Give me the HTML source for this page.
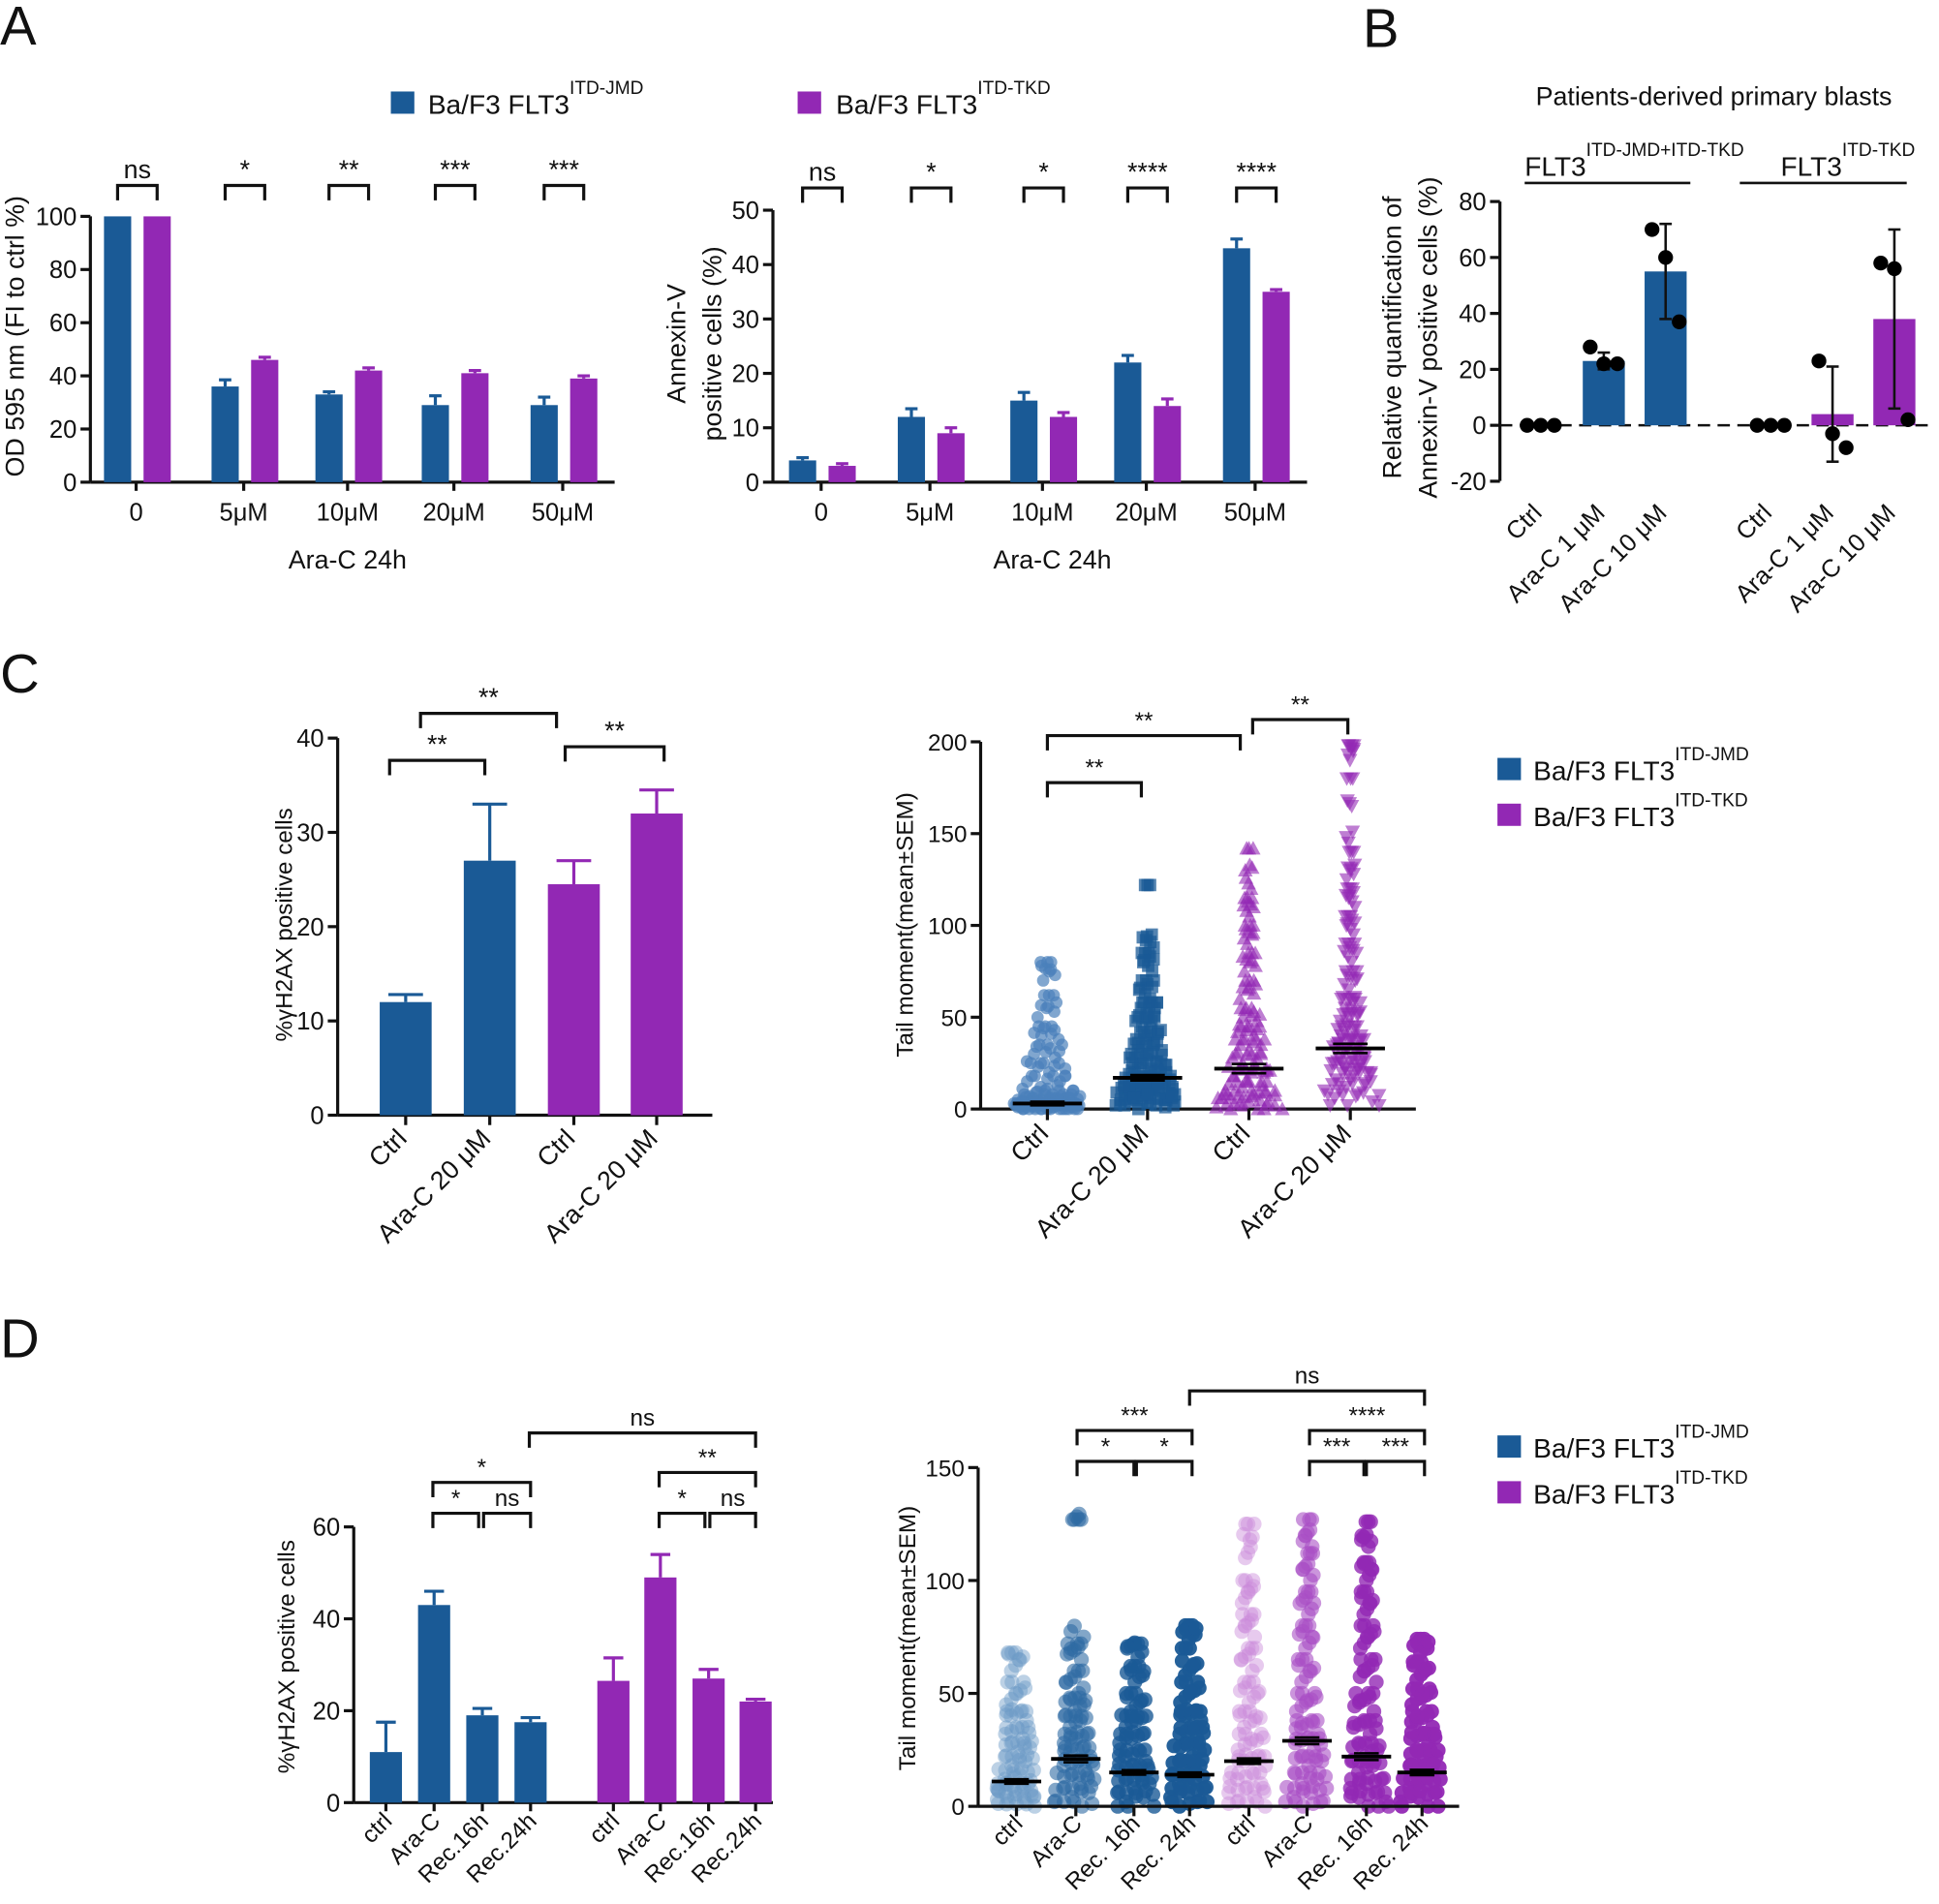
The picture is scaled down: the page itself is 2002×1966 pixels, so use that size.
<!DOCTYPE html>
<html><head><meta charset="utf-8"><style>
html,body{margin:0;padding:0;background:#fff}
svg{display:block}
text{font-family:"Liberation Sans",sans-serif;fill:#111}
</style></head><body>
<svg id="fig" width="2002" height="1966" viewBox="0 0 1568 1540" xmlns="http://www.w3.org/2000/svg">
<text x="0" y="36" font-size="44">A</text>
<text x="1102" y="38" font-size="44">B</text>
<text x="0" y="560" font-size="44">C</text>
<text x="0" y="1098" font-size="44">D</text>
<g>
<rect x="316" y="74" width="19" height="18" fill="#1a5a96"/>
<text x="346" y="92" font-size="22">Ba/F3 FLT3<tspan dy="-16" font-size="15">ITD-JMD</tspan></text>
<rect x="645" y="74" width="19" height="18" fill="#9228b4"/>
<text x="676" y="92" font-size="22">Ba/F3 FLT3<tspan dy="-16" font-size="15">ITD-TKD</tspan></text>
</g>
<g>
<rect x="1211" y="613" width="19" height="18" fill="#1a5a96"/>
<text x="1240" y="631" font-size="22">Ba/F3 FLT3<tspan dy="-16" font-size="15">ITD-JMD</tspan></text>
<rect x="1211" y="650" width="19" height="18" fill="#9228b4"/>
<text x="1240" y="668" font-size="22">Ba/F3 FLT3<tspan dy="-16" font-size="15">ITD-TKD</tspan></text>
</g>
<g>
<rect x="1211" y="1161" width="19" height="18" fill="#1a5a96"/>
<text x="1240" y="1179" font-size="22">Ba/F3 FLT3<tspan dy="-16" font-size="15">ITD-JMD</tspan></text>
<rect x="1211" y="1198" width="19" height="18" fill="#9228b4"/>
<text x="1240" y="1216" font-size="22">Ba/F3 FLT3<tspan dy="-16" font-size="15">ITD-TKD</tspan></text>
</g>
<text x="1386" y="85" font-size="21" text-anchor="middle">Patients-derived primary blasts</text>
<text x="1233" y="142" font-size="22">FLT3<tspan dy="-16" font-size="15">ITD-JMD+ITD-TKD</tspan></text>
<line x1="1233" y1="148" x2="1367" y2="148" stroke="#111" stroke-width="2"/>
<text x="1440" y="142" font-size="22">FLT3<tspan dy="-16" font-size="15">ITD-TKD</tspan></text>
<line x1="1407" y1="148" x2="1542" y2="148" stroke="#111" stroke-width="2"/>
<text x="281" y="460" font-size="21" text-anchor="middle">Ara-C 24h</text>
<text x="851" y="460" font-size="21" text-anchor="middle">Ara-C 24h</text>
<text transform="translate(19,272) rotate(-90)" font-size="21" text-anchor="middle">OD 595 nm (FI to ctrl %)</text>
<text transform="translate(554,278) rotate(-90)" font-size="21" text-anchor="middle">Annexin-V</text>
<text transform="translate(583,278) rotate(-90)" font-size="21" text-anchor="middle">positive cells (%)</text>
<text transform="translate(1133,273) rotate(-90)" font-size="21" text-anchor="middle">Relative quantification of</text>
<text transform="translate(1162,273) rotate(-90)" font-size="21" text-anchor="middle">Annexin-V positive cells (%)</text>
<text transform="translate(236,748) rotate(-90)" font-size="19" text-anchor="middle">%γH2AX positive cells</text>
<text transform="translate(738,748) rotate(-90)" font-size="19" text-anchor="middle">Tail moment(mean±SEM)</text>
<text transform="translate(238,1340) rotate(-90)" font-size="19" text-anchor="middle">%γH2AX positive cells</text>
<text transform="translate(740,1325) rotate(-90)" font-size="19" text-anchor="middle">Tail moment(mean±SEM)</text>
</svg>
<script>
// ---------- data ----------
const aCats = ['0','5\u03bcM','10\u03bcM','20\u03bcM','50\u03bcM'];
const a1Jmd = [100,36,33,29,29];
const a1JmdErr = [0,2.5,1,3.5,3];
const a1Tkd = [100,46,42,41,39];
const a1TkdErr = [0,1,1,1,1];
const a1Sig = ['ns','*','**','***','***'];
const a1Ticks = [0,20,40,60,80,100];
const a2Jmd = [4,12,15,22,43];
const a2JmdErr = [0.5,1.5,1.5,1.3,1.7];
const a2Tkd = [3,9,12,14,35];
const a2TkdErr = [0.4,1,0.8,1.3,0.4];
const a2Sig = ['ns','*','*','****','****'];
const a2Ticks = [0,10,20,30,40,50];
const bCats = ['Ctrl','Ara-C 1 \u03bcM','Ara-C 10 \u03bcM','Ctrl','Ara-C 1 \u03bcM','Ara-C 10 \u03bcM'];
const bMeans = [0,23,55,0,4,38];
const bErr = [0,3,17,0,17,32];
const bDots = [[0,0,0],[28,22,22],[70,60,37],[0,0,0],[23,-3,-8],[58,56,2]];
const bTicks = [-20,0,20,40,60,80];
const cCats = ['Ctrl','Ara-C 20 \u03bcM','Ctrl','Ara-C 20 \u03bcM'];
const c1Vals = [12,27,24.5,32];
const c1Err = [0.8,6,2.5,2.5];
const c1Ticks = [0,10,20,30,40];
const c2Ticks = [0,50,100,150,200];
const c2Means = [3,17,22,33];
const c2Sem = [1,1.5,2.5,2.5];
const c2G1 = [80,75,70,62,55,50,45,40,38,35,30,28,25,22,20,18,15,12,10,8,7,6,5,5,4,4,3,3,2,2,2,1,1,1,0,0,0,0,0,0,3,2,1,1,0,0];
const c2G2 = [122,92,88,85,80,75,70,65,60,58,55,52,50,48,45,42,40,38,36,34,32,30,28,26,25,24,22,20,19,18,17,16,15,14,13,12,11,10,9,8,7,6,5,4,3,2,1,0,12,10,8,6,4,2];
const c2G3 = [142,130,120,115,110,105,100,95,90,85,80,75,70,65,60,55,50,48,45,42,40,38,35,32,30,28,25,22,20,18,15,12,10,8,6,4,2,1,0,0,20,15,10,5,3];
const c2G4 = [198,195,190,180,165,145,140,130,125,120,115,110,105,100,95,90,85,80,75,70,65,60,58,55,52,50,48,45,42,40,38,36,34,32,30,28,26,24,22,20,18,16,14,12,10,8,6,4,2,35,30,25,20];
const dCats = ['ctrl','Ara-C','Rec.16h','Rec.24h','ctrl','Ara-C','Rec.16h','Rec.24h'];
const d1Vals = [11,43,19,17.5,26.5,49,27,22];
const d1Err = [6.5,3,1.5,1,5,5,2,0.5];
const d1Ticks = [0,20,40,60];
const d2Cats = ['ctrl','Ara-C','Rec. 16h','Rec. 24h','ctrl','Ara-C','Rec. 16h','Rec. 24h'];
const d2Ticks = [0,50,100,150];
const d2Means = [11,21,15,14,20,29,22,15];
const d2Sem = [1,1.5,1,1,1.2,1.5,1.5,1.2];
const d2Groups = [
 [68,65,60,55,50,45,42,40,38,35,32,30,28,26,24,22,20,18,16,14,12,10,9,8,7,6,5,4,3,2,1,0],
 [127,127,75,72,68,65,60,55,50,48,45,42,40,38,35,32,30,28,26,24,22,20,18,16,14,12,10,8,6,4,2,0],
 [72,70,66,62,58,55,50,46,42,40,38,35,32,30,28,25,22,20,18,16,14,12,10,8,6,4,2,0],
 [80,76,74,70,62,58,55,50,46,42,40,38,35,32,30,28,25,22,20,18,16,14,12,10,8,6,4,2,0],
 [125,118,110,100,95,90,85,80,75,70,65,60,55,50,46,42,38,35,32,28,25,22,20,18,15,12,10,8,6,4,2,0],
 [127,120,115,112,105,100,95,90,85,80,75,70,65,60,55,50,46,42,38,35,32,30,28,25,22,20,18,15,12,10,8,6,4,2,0],
 [126,118,115,108,105,100,95,90,85,80,75,70,65,60,55,50,46,42,38,35,32,28,25,22,20,18,15,12,10,8,6,4,2,0],
 [74,70,68,64,60,56,52,48,45,42,38,35,32,30,28,25,22,20,18,16,14,12,10,8,6,4,2,0]
];
// ---------- helpers ----------
const NS='http://www.w3.org/2000/svg';
const svg=document.getElementById('fig');
const BLUE='#1a5a96', PURP='#9228b4';
function mk(tag,attrs,name,parent){
  const e=document.createElementNS(NS,tag);
  for(const k in attrs) e.setAttribute(k,attrs[k]);
  
  
  (parent||svg).appendChild(e);
  return e;
}
function txt(x,y,s,size,name,anchor,extra){
  const t=mk('text',Object.assign({x:x,y:y,'font-size':size,'text-anchor':anchor||'middle'},extra||{}),name);
  t.textContent=s; return t;
}
function scale(v0,p0,v1,p1){return v=>p0+(v-v0)*(p1-p0)/(v1-v0);}
function yAxis(x,y,ticks,top,bottom,name,fs){
  mk('line',{x1:x,y1:top,x2:x,y2:bottom,stroke:'#111','stroke-width':2.5},name+'-line');
  ticks.forEach(t=>{
    mk('line',{x1:x-8,y1:y(t),x2:x,y2:y(t),stroke:'#111','stroke-width':2.5},name+'-tick');
    txt(x-11,y(t)+7,String(t),fs||20,name+'-tick-label','end');
  });
}
function xAxis(y,x1,x2,name){mk('line',{x1:x1,y1:y,x2:x2,y2:y,stroke:'#111','stroke-width':2.5},name);}
function bar(cx,w,v,y,color,name){
  const a=y(v), b=y(0);
  mk('rect',{x:cx-w/2,y:Math.min(a,b),width:w,height:Math.abs(b-a),fill:color},name);
}
function err(cx,v,e,y,color,cw,name){
  if(!e) return;
  const sgn=v>=0?1:-1;
  mk('line',{x1:cx,y1:y(v),x2:cx,y2:y(v+sgn*e),stroke:color,'stroke-width':2.5},name);
  mk('line',{x1:cx-cw,y1:y(v+sgn*e),x2:cx+cw,y2:y(v+sgn*e),stroke:color,'stroke-width':2.5},name+'-cap');
}
function bracket(x1,x2,yy,label,name,fs){
  mk('path',{d:`M${x1} ${yy+12}V${yy}H${x2}V${yy+12}`,fill:'none',stroke:'#111','stroke-width':2.5},name);
  txt((x1+x2)/2,yy-6,label,fs||21,name+'-label');
}
function rotLabel(cx,y,s,size,name){
  txt(0,0,s,size,name,'end',{transform:`translate(${cx+6},${y}) rotate(-45)`});
}
function jit(i,seed){return (((i*37+seed*17)%23)-11)/11;}
// ---------- Panel A left ----------
(function(){
  const y=scale(0,390,100,175);
  const xs=[110,197,281,367,455];
  yAxis(73,y,a1Ticks,175,390,'a1-y-axis',20);
  xAxis(390,73,497,'a1-x-axis');
  aCats.forEach((c,i)=>{
    bar(xs[i]-15,22,a1Jmd[i],y,BLUE,'a1-bar-jmd');
    err(xs[i]-15,a1Jmd[i],a1JmdErr[i],y,BLUE,5,'a1-err-jmd');
    bar(xs[i]+17,22,a1Tkd[i],y,PURP,'a1-bar-tkd');
    err(xs[i]+17,a1Tkd[i],a1TkdErr[i],y,PURP,5,'a1-err-tkd');
    mk('line',{x1:xs[i],y1:390,x2:xs[i],y2:397,stroke:'#111','stroke-width':2.5},'a1-x-tick');
    txt(xs[i],421,c,20,'a1-x-label');
    bracket(xs[i]-15,xs[i]+17,150,a1Sig[i],'a1-sig');
  });
})();
// ---------- Panel A right ----------
(function(){
  const y=scale(0,390,50,170);
  const xs=[664,752,843,927,1015];
  yAxis(625,y,a2Ticks,170,390,'a2-y-axis',20);
  xAxis(390,625,1057,'a2-x-axis');
  aCats.forEach((c,i)=>{
    bar(xs[i]-15,22,a2Jmd[i],y,BLUE,'a2-bar-jmd');
    err(xs[i]-15,a2Jmd[i],a2JmdErr[i],y,BLUE,5,'a2-err-jmd');
    bar(xs[i]+17,22,a2Tkd[i],y,PURP,'a2-bar-tkd');
    err(xs[i]+17,a2Tkd[i],a2TkdErr[i],y,PURP,5,'a2-err-tkd');
    mk('line',{x1:xs[i],y1:390,x2:xs[i],y2:397,stroke:'#111','stroke-width':2.5},'a2-x-tick');
    txt(xs[i],421,c,20,'a2-x-label');
    bracket(xs[i]-15,xs[i]+17,152,a2Sig[i],'a2-sig');
  });
})();
// ---------- Panel B ----------
(function(){
  const y=scale(0,344,80,163);
  const xs=[1246,1297,1347,1432,1482,1532];
  yAxis(1213,y,bTicks,163,389,'b-y-axis',20);
  mk('line',{x1:1213,y1:y(0),x2:1562,y2:y(0),stroke:'#111','stroke-width':2,'stroke-dasharray':'10 6'},'b-zero-line');
  bCats.forEach((c,i)=>{
    const col=i<3?BLUE:PURP;
    if(bMeans[i]!==0) bar(xs[i],34,bMeans[i],y,col,'b-bar');
    if(bErr[i]){
      mk('line',{x1:xs[i],y1:y(bMeans[i]-bErr[i]),x2:xs[i],y2:y(bMeans[i]+bErr[i]),stroke:'#111','stroke-width':2},'b-err');
      mk('line',{x1:xs[i]-5,y1:y(bMeans[i]+bErr[i]),x2:xs[i]+5,y2:y(bMeans[i]+bErr[i]),stroke:'#111','stroke-width':2},'b-err-cap');
      mk('line',{x1:xs[i]-5,y1:y(bMeans[i]-bErr[i]),x2:xs[i]+5,y2:y(bMeans[i]-bErr[i]),stroke:'#111','stroke-width':2},'b-err-cap');
    }
    bDots[i].forEach((v,j)=>{
      mk('circle',{cx:xs[i]+(j-1)*11,cy:y(v),r:6,fill:'#000'},'b-dot');
    });
    rotLabel(xs[i]-4,416,c,20,'b-x-label');
  });
})();
// ---------- Panel C left ----------
(function(){
  const y=scale(0,902,40,597);
  const xs=[328,396,464,531];
  yAxis(273,y,c1Ticks,597,902,'c1-y-axis',20);
  xAxis(902,273,576,'c1-x-axis');
  cCats.forEach((c,i)=>{
    const col=i<2?BLUE:PURP;
    bar(xs[i],42,c1Vals[i],y,col,'c1-bar');
    err(xs[i],c1Vals[i],c1Err[i],y,col,14,'c1-err');
    mk('line',{x1:xs[i],y1:902,x2:xs[i],y2:910,stroke:'#111','stroke-width':2.5},'c1-x-tick');
    rotLabel(xs[i]-4,922,c,21,'c1-x-label');
  });
  bracket(315,392,615,'**','c1-sig-1');
  bracket(340,450,577,'**','c1-sig-2');
  bracket(457,537,604,'**','c1-sig-3');
})();
// ---------- Panel C right ----------
(function(){
  const y=scale(0,897,200,600);
  const xs=[847,928,1010,1092];
  yAxis(793,y,c2Ticks,600,897,'c2-y-axis',19);
  xAxis(897,793,1145,'c2-x-axis');
  const groups=[c2G1,c2G2,c2G3,c2G4];
  const cols=['#4a80bb',BLUE,PURP,PURP];
  const ops=[0.7,0.75,0.6,0.6];
  groups.forEach((g,gi)=>{
    [0,1,2].forEach(pass=>{
      g.forEach((v,i)=>{
        const w=24*Math.exp(-v/35)+3;
        const cx=xs[gi]+jit(i,pass+gi)*w, cy=y(v+pass*((i%3)*1.5));
        if(gi===0) mk('circle',{cx:cx,cy:cy,r:5,fill:cols[gi],'fill-opacity':ops[gi]},'c2-point-ctrl-jmd');
        else if(gi===1) mk('rect',{x:cx-5,y:cy-5,width:10,height:10,fill:cols[gi],'fill-opacity':ops[gi]},'c2-point-arac-jmd');
        else if(gi===2) mk('path',{d:`M${cx} ${cy-6}L${cx+6} ${cy+5}L${cx-6} ${cy+5}Z`,fill:cols[gi],'fill-opacity':ops[gi]},'c2-point-ctrl-tkd');
        else mk('path',{d:`M${cx} ${cy+6}L${cx+6} ${cy-5}L${cx-6} ${cy-5}Z`,fill:cols[gi],'fill-opacity':ops[gi]},'c2-point-arac-tkd');
      });
    });
    mk('line',{x1:xs[gi]-28,y1:y(c2Means[gi]),x2:xs[gi]+28,y2:y(c2Means[gi]),stroke:'#000','stroke-width':3},'c2-mean');
    mk('line',{x1:xs[gi]-14,y1:y(c2Means[gi]+c2Sem[gi]),x2:xs[gi]+14,y2:y(c2Means[gi]+c2Sem[gi]),stroke:'#000','stroke-width':2},'c2-sem');
    mk('line',{x1:xs[gi]-14,y1:y(c2Means[gi]-c2Sem[gi]),x2:xs[gi]+14,y2:y(c2Means[gi]-c2Sem[gi]),stroke:'#000','stroke-width':2},'c2-sem');
    mk('line',{x1:xs[gi],y1:897,x2:xs[gi],y2:906,stroke:'#111','stroke-width':2.5},'c2-x-tick');
    rotLabel(xs[gi]-4,918,cCats[gi],21,'c2-x-label');
  });
  bracket(847,923,633,'**','c2-sig-1',19);
  bracket(847,1003,595,'**','c2-sig-2',19);
  bracket(1013,1090,582,'**','c2-sig-3',19);
})();
// ---------- Panel D left ----------
(function(){
  const y=scale(0,1458,60,1235);
  const xs=[312,351,390,429,496,534,573,611];
  yAxis(286,y,d1Ticks,1235,1458,'d1-y-axis',20);
  xAxis(1458,286,625,'d1-x-axis');
  dCats.forEach((c,i)=>{
    const col=i<4?BLUE:PURP;
    bar(xs[i],26,d1Vals[i],y,col,'d1-bar');
    err(xs[i],d1Vals[i],d1Err[i],y,col,8,'d1-err');
    mk('line',{x1:xs[i],y1:1458,x2:xs[i],y2:1465,stroke:'#111','stroke-width':2.5},'d1-x-tick');
    rotLabel(xs[i],1474,c,19,'d1-x-label');
  });
  bracket(350,387,1224,'*','d1-sig-1',19);
  bracket(391,429,1224,'ns','d1-sig-2',19);
  bracket(350,429,1199,'*','d1-sig-3',19);
  bracket(428,611,1159,'ns','d1-sig-4',19);
  bracket(533,570,1224,'*','d1-sig-5',19);
  bracket(574,611,1224,'ns','d1-sig-6',19);
  bracket(533,611,1191,'**','d1-sig-7',19);
})();
// ---------- Panel D right ----------
(function(){
  const y=scale(0,1461,150,1187);
  const xs=[822,870,917,962,1010,1057,1105,1150];
  yAxis(791,y,d2Ticks,1187,1461,'d2-y-axis',19);
  const cols=['#6a98c6','#2f6aa3',BLUE,BLUE,'#c98ad9','#a94ec4',PURP,PURP];
  const ops=[0.45,0.6,0.8,0.95,0.45,0.6,0.8,0.95];
  d2Groups.forEach((g,gi)=>{
    [0,1,2].forEach(pass=>{
      g.forEach((v,i)=>{
        const w=15*Math.exp(-v/50)+3;
        const cx=xs[gi]+jit(i,pass*3+gi)*w, cy=y(v+pass*((i%3)*1.2));
        mk('circle',{cx:cx,cy:cy,r:6,fill:cols[gi],'fill-opacity':ops[gi]},'d2-point');
      });
    });
    mk('line',{x1:xs[gi]-20,y1:y(d2Means[gi]),x2:xs[gi]+20,y2:y(d2Means[gi]),stroke:'#000','stroke-width':3},'d2-mean');
    mk('line',{x1:xs[gi]-10,y1:y(d2Means[gi]+d2Sem[gi]),x2:xs[gi]+10,y2:y(d2Means[gi]+d2Sem[gi]),stroke:'#000','stroke-width':2},'d2-sem');
    mk('line',{x1:xs[gi]-10,y1:y(d2Means[gi]-d2Sem[gi]),x2:xs[gi]+10,y2:y(d2Means[gi]-d2Sem[gi]),stroke:'#000','stroke-width':2},'d2-sem');
    mk('line',{x1:xs[gi],y1:1461,x2:xs[gi],y2:1469,stroke:'#111','stroke-width':2.5},'d2-x-tick');
    rotLabel(xs[gi],1476,d2Cats[gi],19,'d2-x-label');
  });
  xAxis(1461,791,1180,'d2-x-axis');
  bracket(871,964,1157,'***','d2-sig-1',19);
  bracket(871,917,1182,'*','d2-sig-2',19);
  bracket(919,964,1182,'*','d2-sig-3',19);
  bracket(962,1152,1125,'ns','d2-sig-4',19);
  bracket(1059,1152,1157,'****','d2-sig-5',19);
  bracket(1059,1103,1182,'***','d2-sig-6',19);
  bracket(1105,1152,1182,'***','d2-sig-7',19);
})();
</script>
</body></html>
